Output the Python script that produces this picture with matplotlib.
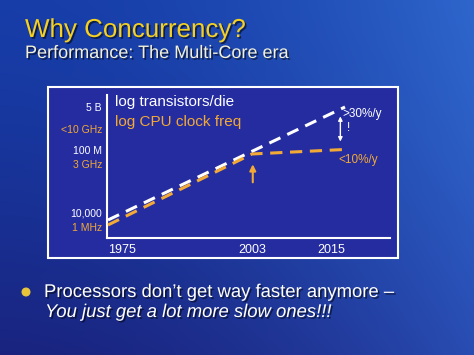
import matplotlib
matplotlib.use("Agg")
import matplotlib.pyplot as plt
import matplotlib.patheffects as pe
import matplotlib.transforms as mtrans
from matplotlib.patches import Rectangle, Circle
from matplotlib.ticker import NullLocator
import numpy as np

# chart data
years = [1975, 2003, 2015]
trans_years = [1975, 2015]
transistors = [1e4, 5e9]          # transistors per die
clock_hz = [1e6, 3e9, 5e9]        # cpu clock

x_ticks = [1975, 2003, 2015]
x_labels = ['1975', '2003', '2015']
trans_ticks = [1e4, 1e8, 5e9]
trans_labels = ['10,000', '100 M', '5 B']
clock_ticks = [1e6, 3e9, 1e10]
clock_labels = ['1 MHz', '3 GHz', '<10 GHz']

ORANGE = '#f2a935'
YELLOW = '#f5d020'
FONT = 'Liberation Sans'
plt.rcParams['font.family'] = [FONT, 'DejaVu Sans']

shadow = [pe.SimplePatchShadow(offset=(1.2, -1.2), shadow_rgbFace='black', alpha=0.55), pe.Normal()]

fig = plt.figure(figsize=(4.74, 3.55), dpi=100)

# slide background
bg = fig.add_axes([0, 0, 1, 1])
bg.axis('off')
gx = np.linspace(0, 1, 240)[None, :, None]
gy = np.linspace(0, 1, 180)[:, None, None]
top_l = np.array([0.09, 0.24, 0.66])
top_r = np.array([0.18, 0.40, 0.80])
bot_l = np.array([0.10, 0.14, 0.50])
bot_r = np.array([0.16, 0.30, 0.70])
t = gx ** 1.8
s = gy ** 1.3
img = (top_l * (1 - t) + top_r * t) * (1 - s) + (bot_l * (1 - t) + bot_r * t) * s
bg.imshow(np.clip(img, 0, 1), extent=(0, 474, 355, 0), aspect='auto')
bg.set_xlim(0, 474)
bg.set_ylim(355, 0)

bg.add_patch(Rectangle((48, 87), 350, 171, fc='#252ca0', ec='white', lw=1.5))

bg.text(25, 37, 'Why Concurrency?', color=YELLOW, fontsize=18.7, path_effects=shadow)
bg.text(25, 58, 'Performance: The Multi-Core era', color='#f2f0d8', fontsize=13,
        path_effects=shadow)

bg.add_patch(Circle((26, 292), 3.8, color='#e8c43a'))
bg.text(44, 297, 'Processors don\u2019t get way faster anymore \u2013', color='white',
        fontsize=13.3, path_effects=shadow)
bg.text(45, 317, 'You just get a lot more slow ones!!!', color='white', fontsize=13.3,
        style='italic', path_effects=shadow)

# piecewise year axis, the slide is not to scale
yr_knots = np.array([1900, 1975, 2003, 2015, 2100])
px_knots = np.array([108 - 75 * 144 / 28, 108, 252, 345, 345 + 85 * 93 / 12])

def fwd(x):
    return np.interp(x, yr_knots, px_knots)

def inv(u):
    return np.interp(u, px_knots, yr_knots)

ax = fig.add_axes([107 / 474, 1 - 238 / 355, 283 / 474, 143 / 355])
ax.patch.set_visible(False)
ax.set_xscale('function', functions=(fwd, inv))
ax.set_yscale('log')
ax.set_xlim(inv(107), inv(390))
ax.set_ylim(10 ** 3.092, 10 ** 10.304)

ax2 = ax.twinx()
ax2.set_yscale('log')
ax2.set_ylim(10 ** 5.363, 10 ** 12.366)
ax2.yaxis.tick_left()

for s in ['top', 'right']:
    ax.spines[s].set_visible(False)
for s in ['left', 'bottom']:
    ax.spines[s].set_color('white')
    ax.spines[s].set_linewidth(1.5)
for s in ax2.spines.values():
    s.set_visible(False)

ax.plot(trans_years, transistors, color='white', lw=2.2, ls=(0, (4, 2.5)))
ax2.plot(years, clock_hz, color=ORANGE, lw=2.2, ls=(0, (4, 2.5)))

ax.set_xticks(x_ticks, x_labels)
ax.tick_params(axis='x', colors='white', labelsize=9, length=0, pad=4)
xl = ax.get_xticklabels()
xl[0].set_ha('left')
xl[2].set_ha('right')

ax.set_yticks(trans_ticks, trans_labels)
ax2.set_yticks(clock_ticks, clock_labels)
for a, col in [(ax, 'white'), (ax2, ORANGE)]:
    a.yaxis.set_minor_locator(NullLocator())
    a.tick_params(axis='y', which='both', length=0, labelcolor=col, labelsize=7.5, pad=3.6)

# the slide stacks the two label sets, nudge them apart (inches, up is +)
nudge = {ax: [0.07, -0.09, 0.0], ax2: [-0.02, -0.10, 0.14]}
for a, dys in nudge.items():
    for lab, dy in zip(a.get_yticklabels(), dys):
        lab.set_transform(lab.get_transform() + mtrans.ScaledTranslation(0, dy, fig.dpi_scale_trans))

ax.text(0.028, 0.95, 'log transistors/die', transform=ax.transAxes, color='white',
        fontsize=11, va='center')
ax.text(0.028, 0.81, 'log CPU clock freq', transform=ax.transAxes, color=ORANGE,
        fontsize=11, va='center')

ax.annotate('', xy=(2003.1, 0.535), xytext=(2003.1, 0.37),
            xycoords=('data', 'axes fraction'), textcoords=('data', 'axes fraction'),
            arrowprops=dict(arrowstyle='-|>', color=ORANGE, lw=1.5, mutation_scale=9))
ax.annotate('', xy=(2014.4, 0.87), xytext=(2014.4, 0.655),
            xycoords=('data', 'axes fraction'), textcoords=('data', 'axes fraction'),
            arrowprops=dict(arrowstyle='<|-|>', color='white', lw=1, mutation_scale=6))
ax.text(2014.6, 0.866, '>30%/y', transform=ax.get_xaxis_transform(), color='white',
        fontsize=8.5, va='center', ha='left')
ax.text(2015.2, 0.77, '!', transform=ax.get_xaxis_transform(), color='white',
        fontsize=8.5, va='center', ha='left')
ax.text(2014.1, 0.545, '<10%/y', transform=ax.get_xaxis_transform(), color=ORANGE,
        fontsize=8.5, va='center', ha='left')

fig.savefig('out.png', dpi=100)
